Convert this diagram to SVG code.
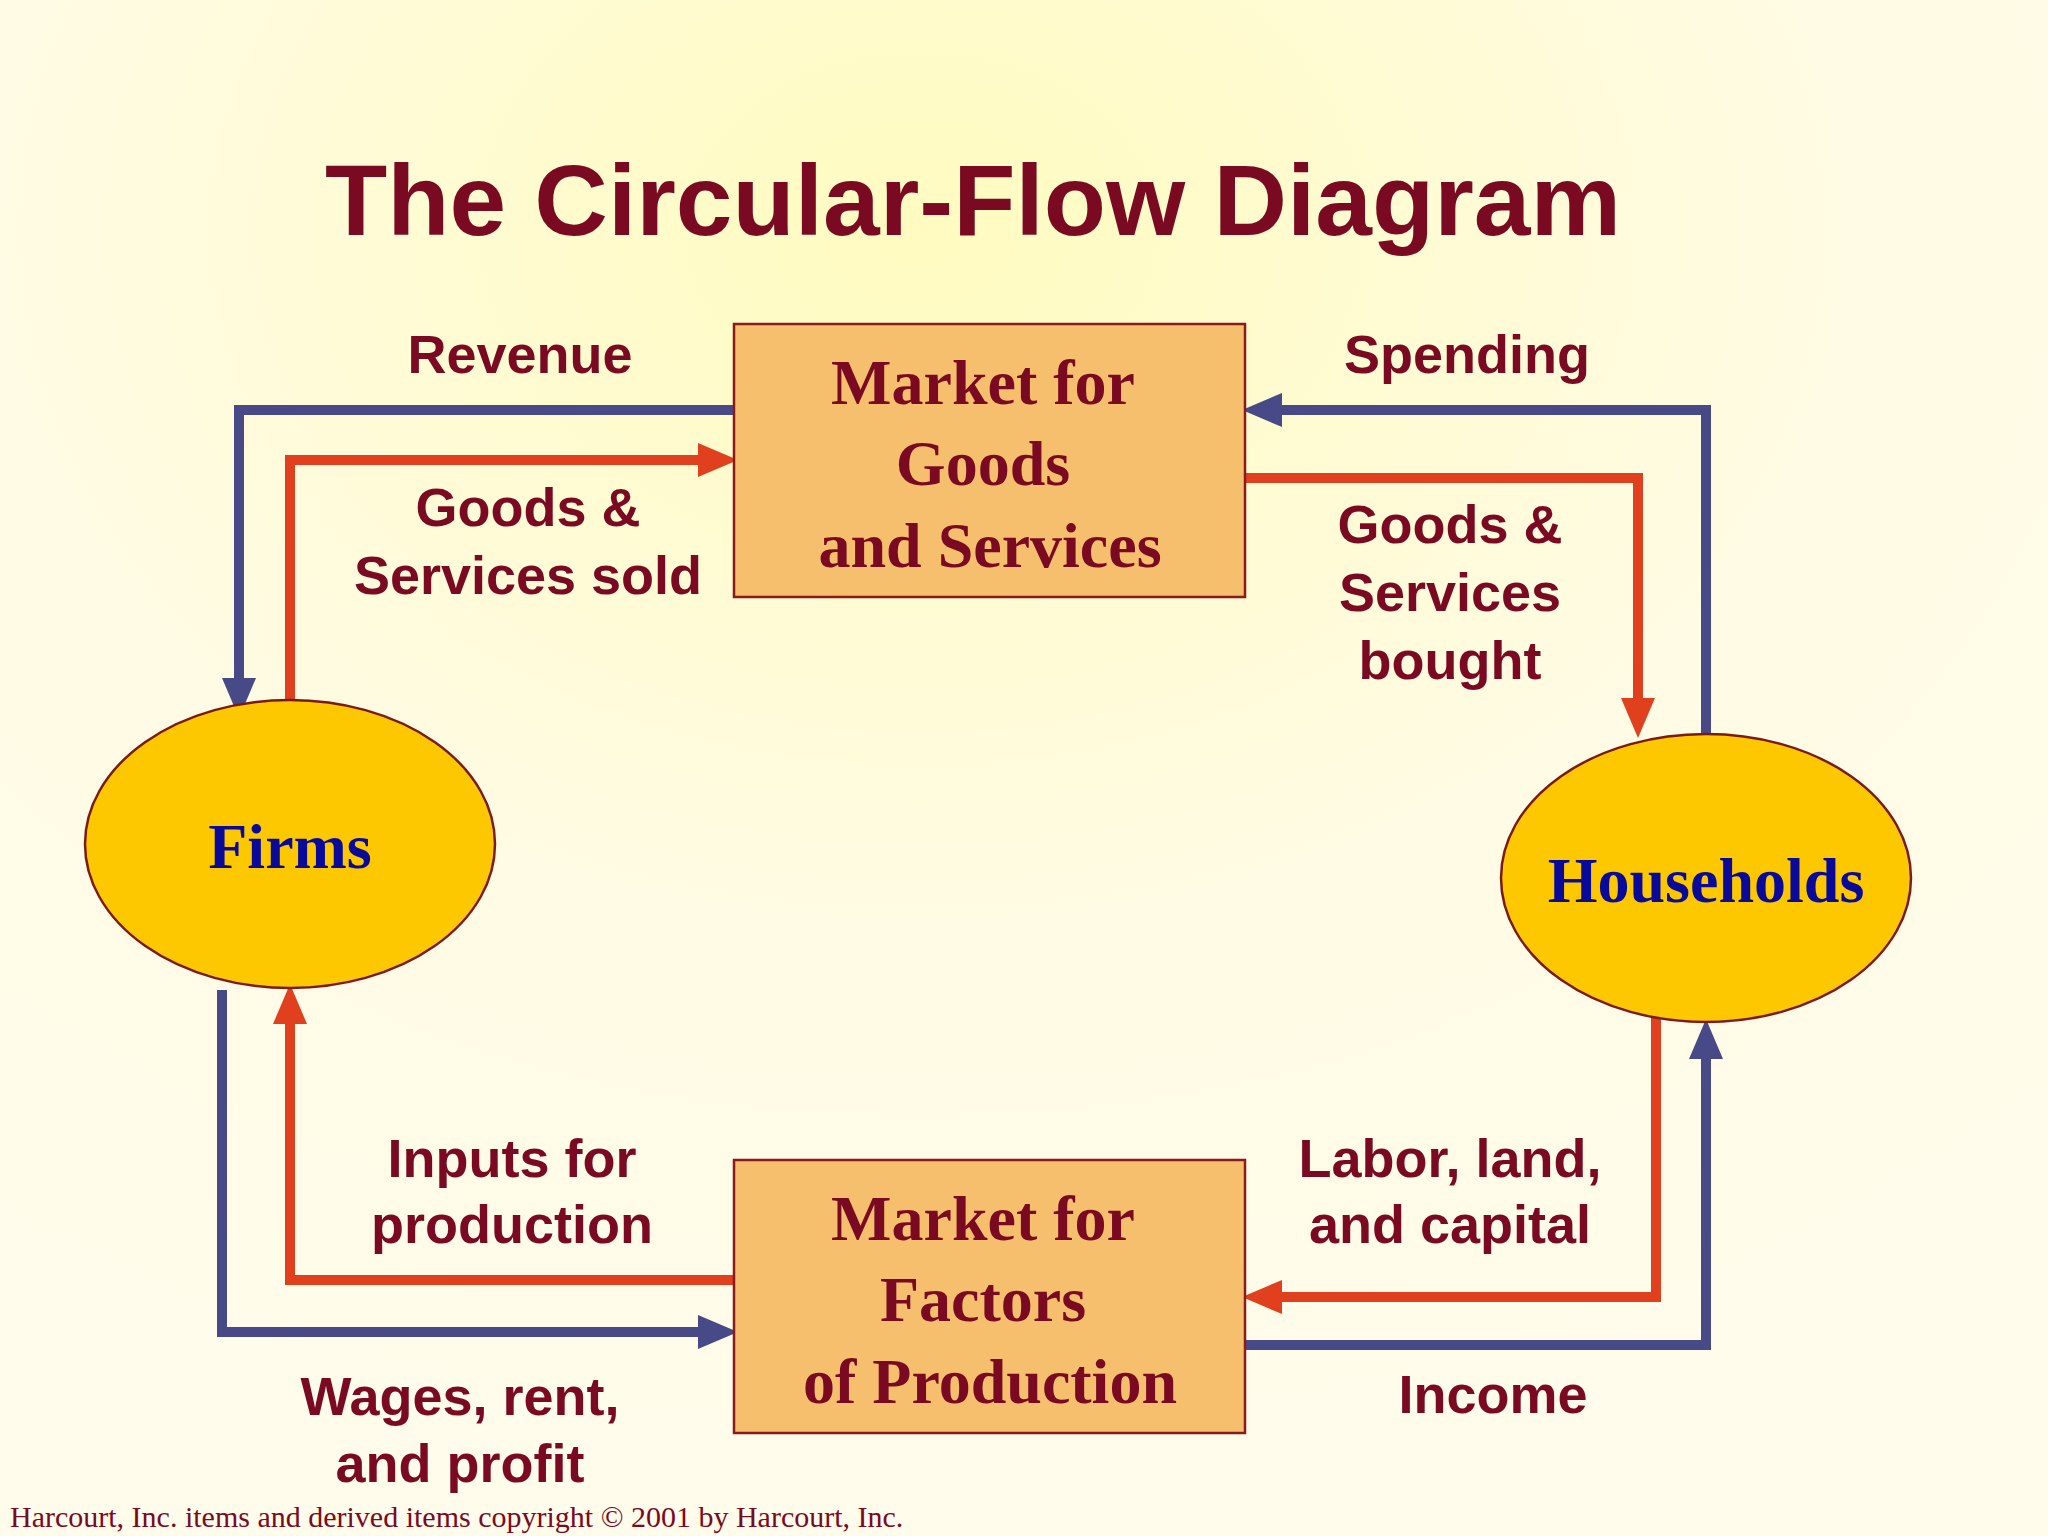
<svg xmlns="http://www.w3.org/2000/svg" width="2048" height="1536" viewBox="0 0 2048 1536">
<defs>
<radialGradient id="bg" cx="0.45" cy="0.15" r="0.9">
<stop offset="0" stop-color="#fffbc0"/><stop offset="0.5" stop-color="#fffbe4"/><stop offset="1" stop-color="#fffcec"/>
</radialGradient>
<marker id="ab" markerWidth="4" markerHeight="4" refX="2.2" refY="2" orient="auto" markerUnits="strokeWidth" viewBox="0 0 4 4"><path d="M0,0.3 L4,2 L0,3.7Z" fill="#484a88"/></marker>
<marker id="ar" markerWidth="4" markerHeight="4" refX="2.2" refY="2" orient="auto" markerUnits="strokeWidth" viewBox="0 0 4 4"><path d="M0,0.3 L4,2 L0,3.7Z" fill="#e0401e"/></marker>
<style>
.b{fill:none;stroke:#484a88;stroke-width:10;marker-end:url(#ab)}
.r{fill:none;stroke:#e0401e;stroke-width:10;marker-end:url(#ar)}
.lab{font-family:"Liberation Sans",Arial,sans-serif;font-weight:bold;font-size:54px;fill:#7a0a22;text-anchor:middle}
.bx{fill:#f6bf6e;stroke:#8b1a1a;stroke-width:2.5}
.bt{font-family:"Liberation Serif","Times New Roman",serif;font-weight:bold;font-size:64px;fill:#7a0a22;text-anchor:middle}
.el{fill:#fdc800;stroke:#7a1a1a;stroke-width:2.5}
.et{font-family:"Liberation Serif","Times New Roman",serif;font-weight:bold;font-size:64px;fill:#0a0a9a;text-anchor:middle}
</style>
</defs>
<rect width="2048" height="1536" fill="url(#bg)"/>
<text x="973" y="235" font-family="Liberation Sans,Arial,sans-serif" font-weight="bold" font-size="100" fill="#7a0a22" text-anchor="middle" textLength="1296" lengthAdjust="spacingAndGlyphs">The Circular-Flow Diagram</text>
<g id="connectors">
<polyline class="b" points="734,410 239,410 239,700"/>
<polyline class="r" points="290,699 290,460 720,460"/>
<polyline class="b" points="1706,734 1706,410 1260,410"/>
<polyline class="r" points="1245,478 1638,478 1638,720"/>
<polyline class="b" points="222,990 222,1332 720,1332"/>
<polyline class="r" points="734,1280 290,1280 290,1002"/>
<polyline class="r" points="1656,1008 1656,1297 1260,1297"/>
<polyline class="b" points="1245,1345 1706,1345 1706,1037"/>
</g>
<g id="labels">
<text class="lab" x="520" y="373">Revenue</text>
<text class="lab" x="528" y="526">Goods &amp;</text>
<text class="lab" x="528" y="594">Services sold</text>
<text class="lab" x="1467" y="373">Spending</text>
<text class="lab" x="1450" y="543">Goods &amp;</text>
<text class="lab" x="1450" y="611">Services</text>
<text class="lab" x="1450" y="679">bought</text>
<text class="lab" x="512" y="1177">Inputs for</text>
<text class="lab" x="512" y="1243">production</text>
<text class="lab" x="1450" y="1177">Labor, land,</text>
<text class="lab" x="1450" y="1243">and capital</text>
<text class="lab" x="460" y="1415">Wages, rent,</text>
<text class="lab" x="460" y="1482">and profit</text>
<text class="lab" x="1493" y="1413">Income</text>
</g>
<g id="goods-market"><rect class="bx" x="734" y="324" width="511" height="273"/>
<text class="bt" x="983" y="404">Market for</text><text class="bt" x="983" y="485">Goods</text><text class="bt" x="990" y="567">and Services</text></g>
<g id="factor-market"><rect class="bx" x="734" y="1160" width="511" height="273"/>
<text class="bt" x="983" y="1240">Market for</text><text class="bt" x="983" y="1321">Factors</text><text class="bt" x="990" y="1403">of Production</text></g>
<g id="firms"><ellipse class="el" cx="290" cy="844" rx="205" ry="144"/><text class="et" x="290" y="868">Firms</text></g>
<g id="households"><ellipse class="el" cx="1706" cy="878" rx="205" ry="144"/><text class="et" x="1706" y="902">Households</text></g>
<text x="10" y="1527" font-family="Liberation Serif,Times New Roman,serif" font-size="30" fill="#7a0a22">Harcourt, Inc. items and derived items copyright © 2001 by Harcourt, Inc.</text>
</svg>
